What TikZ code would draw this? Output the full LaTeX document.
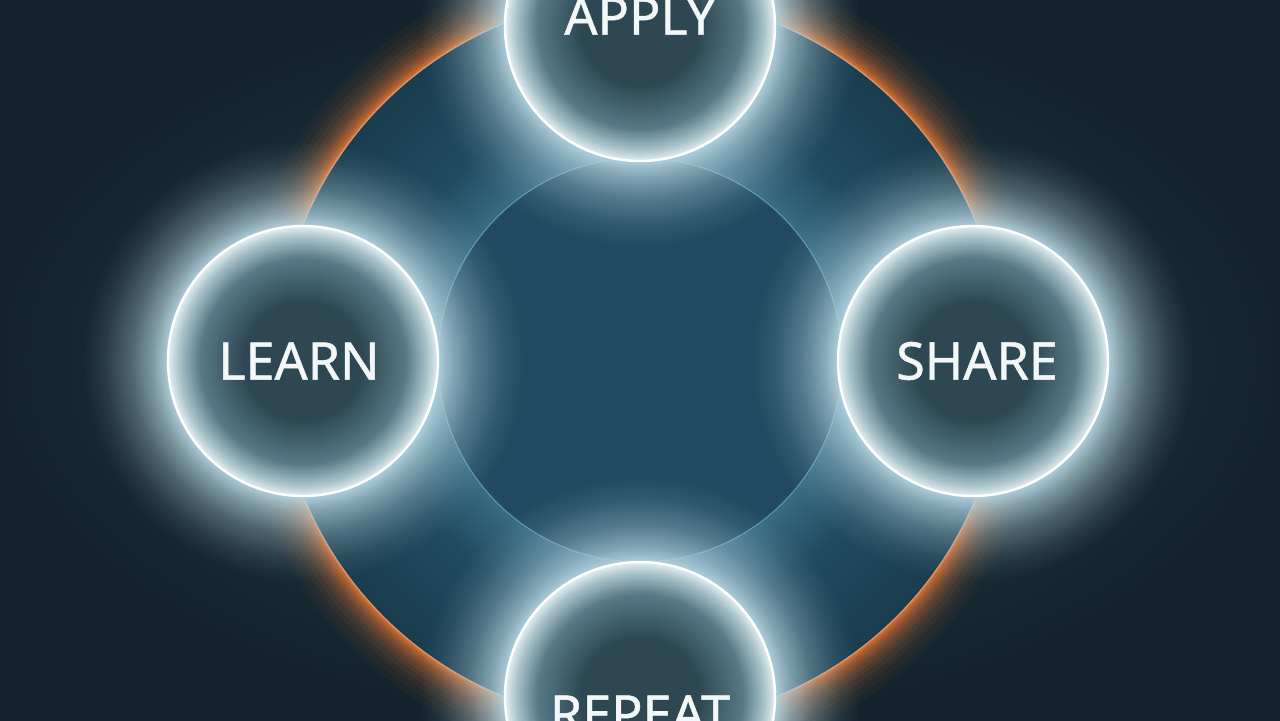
\documentclass[tikz,border=0pt]{standalone}
\usepackage{fontspec}
\setmainfont{Noto Sans}
\newfontfamily\lblfont{Noto Sans}[FakeBold=0.9]
\usetikzlibrary{fadings}
\definecolor{bgC}{HTML}{1E3742}
\definecolor{bgE}{HTML}{14232B}
\definecolor{glowOrange}{HTML}{E07432}
\definecolor{edgeC}{HTML}{F6B890}
\definecolor{ringIn}{HTML}{386B82}
\definecolor{ringMid}{HTML}{224B5F}
\definecolor{ringOut}{HTML}{1A3C4E}
\definecolor{innerC}{HTML}{224B61}
\definecolor{innerEdge}{HTML}{7FB0C4}
\definecolor{haloC}{HTML}{B4D4E0}
\definecolor{nodeDark}{HTML}{2D4853}
\definecolor{nodeMid}{HTML}{587987}
\definecolor{nodeLight}{HTML}{A9C3CB}
\definecolor{nodeRim}{HTML}{E3EEF1}
\definecolor{txtC}{HTML}{F2F7F8}
\colorlet{fadeA}{white!72!black}
\colorlet{fadeB}{white!38!black}
\colorlet{fadeC}{white!12!black}
\pgfdeclareradialshading{bgshade}{\pgfpointorigin}{color(0bp)=(bgC); color(10bp)=(bgC); color(25bp)=(bgE); color(50bp)=(bgE)}
\pgfdeclareradialshading{ringshade}{\pgfpointorigin}{color(0bp)=(ringIn); color(13.9bp)=(ringIn); color(18bp)=(ringMid); color(25bp)=(ringOut); color(50bp)=(ringOut)}
\pgfdeclareradialshading{nodeshade}{\pgfpointorigin}{color(0bp)=(nodeDark); color(11bp)=(nodeDark); color(19bp)=(nodeMid); color(23bp)=(nodeLight); color(25bp)=(nodeRim); color(50bp)=(nodeRim)}
\pgfdeclareradialshading{halofadeshade}{\pgfpointorigin}{color(0bp)=(white); color(15.5bp)=(white); color(17bp)=(fadeA); color(19.5bp)=(fadeB); color(22.5bp)=(fadeC); color(25bp)=(black); color(50bp)=(black)}
\pgfdeclarefading{halofade}{\pgfuseshading{halofadeshade}}
\tikzset{
  bubble/.style={circle, minimum size=135pt, inner sep=0pt, shading=nodeshade, draw=white, line width=1.2pt},
  lbl/.style={text=txtC, inner sep=0pt, font=\lblfont\fontsize{26}{30}\selectfont},
  halo/.style={fill=haloC, opacity=0.92, path fading=halofade},
}
\begin{document}
\begin{tikzpicture}[x=0.5pt,y=-0.5pt]
\useasboundingbox (0,0) rectangle (1280,720);
\shade[shading=bgshade] (0,0) rectangle (1280,720);
\coordinate (O) at (640,360);
% orange rim glow
\foreach \w/\o in {44/0.04,38/0.05,32/0.06,27/0.08,22/0.1,18/0.12,14/0.15,11/0.18,8/0.22,5.5/0.28,3.5/0.35,2/0.45,1/0.6}
  \draw[glowOrange, line width=\w pt, opacity=\o] (O) circle[radius=363];
% outer disk and ring
\shade[shading=ringshade] (O) circle[radius=363];
\draw[edgeC, line width=0.6pt, opacity=0.7] (O) circle[radius=363];
% inner disk
\fill[innerC] (O) circle[radius=202];
\draw[innerEdge, line width=0.5pt, opacity=0.7] (O) circle[radius=202];
% node positions
\coordinate (cApply) at (640,26);
\coordinate (cLearn) at (303,361);
\coordinate (cShare) at (973,361);
\coordinate (cRepeat) at (640,697);
% halos
\foreach \c in {cApply,cLearn,cShare,cRepeat}
  \fill[halo] (\c) circle[radius=220];
% nodes
\node[bubble] (apply) at (cApply) {};
\node[bubble] (learn) at (cLearn) {};
\node[bubble] (share) at (cShare) {};
\node[bubble] (rep) at (cRepeat) {};
% labels
\node[lbl] (tApply) at ([yshift=5pt]apply.center) {APPLY};
\node[lbl] (tLearn) at ([xshift=-2pt]learn.center) {LEARN};
\node[lbl] (tShare) at ([xshift=2pt]share.center) {SHARE};
\node[lbl] (tRepeat) at ([yshift=-8.5pt]rep.center) {REPEAT};
\end{tikzpicture}
\end{document}
